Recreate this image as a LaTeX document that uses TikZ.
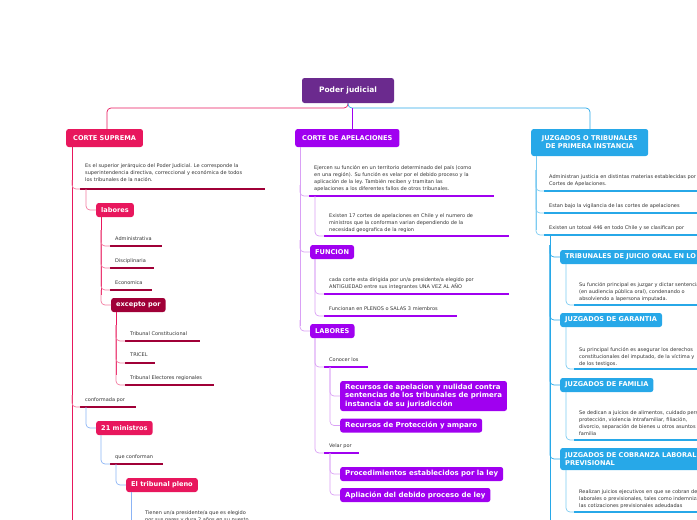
\documentclass[tikz,border=0pt]{standalone}
\usepackage{fontspec}
\setmainfont{DejaVu Sans}
\begin{document}
\begin{tikzpicture}[x=1pt,y=-1pt,
  box/.style={rounded corners=2.5pt,text=white,font=\bfseries\fontsize{6.6}{8}\selectfont,anchor=west,inner xsep=5pt,inner ysep=0pt,minimum height=14pt,align=left},
  sm/.style={font=\fontsize{5}{7}\selectfont,anchor=north west,inner sep=0pt,align=left,text=black!80},
  bar/.style={line width=2.6pt},
  conn/.style={rounded corners=4pt,line width=0.7pt}]
\definecolor{cred}{HTML}{E8175D}
\definecolor{cdred}{HTML}{A00037}
\definecolor{cpink}{HTML}{F27BA0}
\definecolor{croot}{HTML}{6B2A8E}
\definecolor{cviol}{HTML}{A000F0}
\definecolor{clviol}{HTML}{D9A0F5}
\definecolor{cblue}{HTML}{27A8E8}
\definecolor{clblue}{HTML}{8CB4F5}
\useasboundingbox (0,0) rectangle (697,520);
\clip (0,0) rectangle (697,520);
\newcommand\leaf[7]{% name, x, ytop, ybar, xend, color, text
  \node[sm] (#1t) at (#2+5,#3) {#7};
  \coordinate (#1) at (#2,#4);
  \draw[bar,#6] (#1) -- (#5,#4);}
% root
\node[box,fill=croot,minimum height=25pt,minimum width=92pt,align=center,anchor=center,font=\bfseries\fontsize{7.5}{9}\selectfont] (root) at (348,90.5) {Poder judicial};
\draw[conn,cred] (root.south) |- (107,108) -- (107,129);
\draw[conn,cblue] (348,103) |- (590,108) -- (590,129);
\draw[line width=0.7pt,cviol] (352,108) -- (352,129);
% ===== CORTE SUPREMA
\node[box,fill=cred,minimum height=18pt,inner xsep=7pt] (cs) at (66,138) {CORTE SUPREMA};
\draw[line width=0.8pt,cred] (72,147) -- (72,520);
\leaf{a1}{80}{163}{189}{265}{cdred}{Es el superior jerárquico del Poder Judicial. Le corresponde la\\superintendencia directiva, correccional y económica de todos\\los tribunales de la nación.}
\draw[conn,cpink] (72,180) |- (a1);
\node[box,fill=cred] (lab) at (96,210) {labores};
\draw[conn,cpink] (86,189) |- (lab.west);
\draw[line width=0.7pt,cred] (101,217) -- (101,295);
\leaf{b1}{110}{236}{246}{162}{cdred}{Administrativa}
\leaf{b2}{110}{258}{268}{154}{cdred}{Disciplinaria}
\leaf{b3}{110}{280}{290}{152}{cdred}{Economica}
\foreach \n in {b1,b2,b3} \draw[conn,cpink] (101,230) |- (\n);
\node[box,fill=cdred] (exc) at (111,305) {excepto por};
\draw[conn,cpink] (101,290) |- (exc.west);
\draw[line width=0.7pt,cred] (116,312) -- (116,375);
\leaf{c1}{125}{331}{341}{200}{cdred}{Tribunal Constitucional}
\leaf{c2}{125}{353}{363}{155}{cdred}{TRICEL}
\leaf{c3}{125}{375}{385}{214}{cdred}{Tribunal Electores regionales}
\foreach \n in {c1,c2,c3} \draw[conn,cpink] (116,325) |- (\n);
\leaf{d1}{80}{397}{407}{136}{cdred}{conformada por}
\draw[conn,cpink] (72,395) |- (d1);
\node[box,fill=cred] (min) at (96,428) {21 ministros};
\draw[conn,clblue] (86,407) |- (min.west);
\leaf{e1}{110}{454}{464}{163}{cdred}{que conforman}
\draw[conn,clblue] (101,435) |- (e1);
\node[box,fill=cred] (tp) at (126,485) {El tribunal pleno};
\draw[conn,clblue] (116,464) |- (tp.west);
\draw[line width=0.7pt,clblue] (131,492) -- (131,520);
\node[sm] (tpt) at (145,510) {Tienen un/a presidente/a que es elegido\\por sus pares y dura 2 años en su puesto};
% ===== CORTE DE APELACIONES
\node[box,fill=cviol,minimum height=18pt,inner xsep=7pt] (ca) at (295,138) {CORTE DE APELACIONES};
\draw[line width=0.8pt,clviol] (300,147) -- (300,326);
\leaf{f1}{309}{165}{196}{494}{cviol}{Ejercen su función en un territorio determinado del país (como\\en una región). Su función es velar por el debido proceso y la\\aplicación de la ley. También reciben y tramitan las\\apelaciones a los diferentes fallos de otros tribunales.}
\draw[conn,clviol] (300,185) |- (f1);
\leaf{f2}{324}{213}{236}{509}{cviol}{Existen 17 cortes de apelaciones en Chile y el numero de\\ministros que la conforman varian dependiendo de la\\necesidad geografica de la region}
\draw[conn,clviol] (315,196) |- (f2);
\node[box,fill=cviol] (fun) at (310,252) {FUNCION};
\draw[conn,clviol] (300,240) |- (fun.west);
\leaf{g1}{324}{277}{294}{509}{cviol}{cada corte esta dirigida por un/a presidente/a elegido por\\ANTIGUEDAD entre sus integrantes UNA VEZ AL AÑO}
\leaf{g2}{324}{306}{316}{457}{cviol}{Funcionan en PLENOS o SALAS 3 miembros}
\foreach \n in {g1,g2} \draw[conn,clviol] (315,259) |- (\n);
\node[box,fill=cviol] (labo) at (310,331) {LABORES};
\draw[conn,clviol] (300,320) |- (labo.west);
\leaf{h1}{324}{357}{367}{368}{cviol}{Conocer los}
\leaf{h2}{324}{443}{453}{359}{cviol}{Velar por}
\foreach \n in {h1,h2} \draw[conn,clviol] (315,338) |- (\n);
\node[box,fill=cviol,minimum height=30pt,font=\bfseries\fontsize{7}{8.5}\selectfont] (r1) at (340,396) {Recursos de apelacion y nulidad contra\\sentencias de los tribunales de primera\\instancia de su jurisdicción};
\node[box,fill=cviol,font=\bfseries\fontsize{7}{8.5}\selectfont] (r2) at (340,425.5) {Recursos de Protección y amparo};
\foreach \n in {r1,r2} \draw[conn,clviol] (330,367) |- (\n.west);
\node[box,fill=cviol,font=\bfseries\fontsize{7}{8.5}\selectfont] (p1) at (340,474) {Procedimientos establecidos por la ley};
\node[box,fill=cviol,font=\bfseries\fontsize{7}{8.5}\selectfont] (p2) at (340,495) {Apliación del debido proceso de ley};
\foreach \n in {p1,p2} \draw[conn,clviol] (330,453) |- (\n.west);
% ===== JUZGADOS
\node[box,fill=cblue,minimum width=117pt,minimum height=27pt,align=center] (jz) at (531,142.5) {JUZGADOS O TRIBUNALES\\DE PRIMERA INSTANCIA};
\draw[line width=0.8pt,cblue!60] (536,156) -- (536,230);
\leaf{i1}{544}{174}{191}{720}{cblue}{Administran justicia en distintas materias establecidas por las\\Cortes de Apelaciones.}
\leaf{i2}{544}{203}{213}{720}{cblue}{Estan bajo la vigilancia de las cortes de apelaciones}
\leaf{i3}{544}{225}{235}{720}{cblue}{Existen un totoal 446 en todo Chile y se clasifican por}
\foreach \n in {i1,i2,i3} \draw[conn,cblue!60] (536,170) |- (\n);
\draw[line width=0.8pt,cblue] (550,235) -- (550,520);
\node[box,fill=cblue] (j1) at (560,257) {TRIBUNALES DE JUICIO ORAL EN LO PENAL};
\node[box,fill=cblue] (j2) at (560,320) {JUZGADOS DE GARANTIA};
\node[box,fill=cblue] (j3) at (560,385) {JUZGADOS DE FAMILIA};
\node[box,fill=cblue,minimum height=22pt] (j4) at (560,459) {JUZGADOS DE COBRANZA LABORAL Y\\PREVISIONAL};
\foreach \n in {j1,j2,j3,j4} \draw[conn,cblue] (550,245) |- (\n.west);
\leaf{k1}{574}{282}{305}{720}{cblue}{Su función principal es juzgar y dictar sentencia\\(en audiencia pública oral), condenando o\\absolviendo a lapersona imputada.}
\leaf{k2}{574}{347}{369}{720}{cblue}{Su principal función es asegurar los derechos\\constitucionales del imputado, de la víctima y\\de los testigos.}
\leaf{k3}{574}{410}{440}{720}{cblue}{Se dedican a juicios de alimentos, cuidado personal,\\protección, violencia intrafamiliar, filiación,\\divorcio, separación de bienes u otros asuntos de\\familia}
\leaf{k4}{574}{489}{512}{720}{cblue}{Realizan juicios ejecutivos en que se cobran deudas\\laborales o previsionales, tales como indemnizaciones\\las cotizaciones previsionales adeudadas}
\draw[conn,cblue!60] (566,264) |- (k1);
\draw[conn,cblue!60] (566,327) |- (k2);
\draw[conn,cblue!60] (566,392) |- (k3);
\draw[conn,cblue!60] (566,470) |- (k4);
\end{tikzpicture}
\end{document}
